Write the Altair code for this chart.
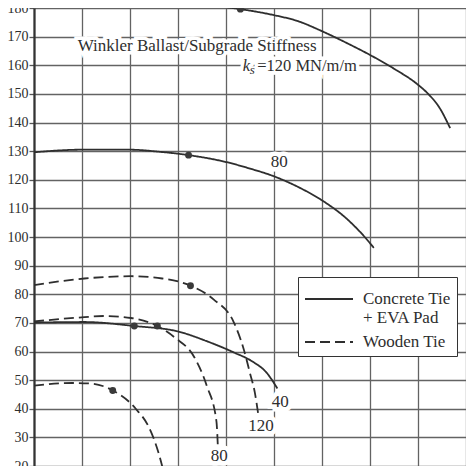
import altair as alt
import pandas as pd

# ---- data (x in grid units, y in chart units) ----
c120_x = [0.0, 1.0, 2.0, 3.0, 3.7, 4.3, 5.0, 5.5, 6.0, 6.5, 7.0, 7.5, 8.0, 8.2, 8.45, 8.67]
c120_y = [181.0, 182.3, 182.5, 181.8, 180.8, 179.6, 177.5, 175.4, 171.9, 167.9, 163.6, 158.8, 153.2, 150.2, 145.1, 138.0]
c80_x = [0.0, 1.0, 2.0, 2.6, 3.22, 4.0, 4.5, 5.0, 5.5, 6.0, 6.5, 6.89, 7.08]
c80_y = [129.6, 130.5, 130.5, 129.8, 128.6, 126.2, 123.9, 121.2, 117.5, 112.8, 106.6, 100.0, 96.2]
c40_x = [0.0, 1.05, 2.09, 3.0, 3.6, 4.16, 4.57, 4.83, 5.07]
c40_y = [70.1, 70.3, 68.9, 67.0, 63.6, 59.7, 56.3, 52.9, 47.1]
w120_x = [0.0, 1.05, 2.02, 2.67, 3.26, 3.74, 4.16, 4.36, 4.5, 4.6, 4.67]
w120_y = [83.2, 85.5, 86.3, 85.5, 83.0, 78.2, 70.3, 61.3, 52.4, 45.7, 38.3]
w80_x = [0.0, 1.05, 1.45, 2.02, 2.57, 2.93, 3.34, 3.6, 3.8, 3.83]
w80_y = [70.5, 72.0, 72.4, 71.7, 68.9, 64.9, 58.0, 48.0, 35.7, 27.0]
w40_x = [0.0, 0.79, 1.19, 1.64, 2.12, 2.4, 2.6, 2.7]
w40_y = [48.1, 49.0, 48.8, 46.4, 40.0, 33.3, 24.3, 18.0]

marker_x = [4.3, 3.22, 2.09, 3.26, 2.57, 1.64]
marker_y = [179.6, 128.6, 68.9, 83.0, 68.9, 46.4]

ks_label_text = ["80", "40", "120", "80"]
ks_label_x = [5.11, 5.13, 4.73, 3.86]
ks_label_y = [126.2, 42.4, 34.0, 23.5]

title_text = "Winkler Ballast/Subgrade Stiffness"
title_x = [0.91]
title_y = [166.6]
ks_text = "=120 MN/m/m"
ks_x = [4.65]
ks_y = [159.9]

tie_names = ["Concrete Tie", "Wooden Tie"]
y_ticks = list(range(20, 190, 10))
x_ticks = list(range(0, 10))

# ---- build tables ----
rows = []
for name, tie, xs_, ys_ in [
    ("c120", tie_names[0], c120_x, c120_y),
    ("c80", tie_names[0], c80_x, c80_y),
    ("c40", tie_names[0], c40_x, c40_y),
    ("w120", tie_names[1], w120_x, w120_y),
    ("w80", tie_names[1], w80_x, w80_y),
    ("w40", tie_names[1], w40_x, w40_y),
]:
    for i, (xv, yv) in enumerate(zip(xs_, ys_)):
        rows.append({"series": name, "tie": tie, "x": xv, "y": yv, "order": i})
curves = pd.DataFrame(rows)
markers = pd.DataFrame({"x": marker_x, "y": marker_y})
labels = pd.DataFrame({"x": ks_label_x, "y": ks_label_y, "text": ks_label_text})
title_df = pd.DataFrame({"x": title_x, "y": title_y, "text": [title_text]})
ks_df = pd.DataFrame({"x": ks_x, "y": ks_y, "text": [ks_text]})

FONT = "Liberation Serif"
INK = "#2e2e2e"

xs = alt.Scale(domain=[0, 9], nice=False, zero=False)
ys = alt.Scale(domain=[20, 180], nice=False, zero=False)

x_axis = alt.Axis(
    values=x_ticks, labels=False, ticks=False, domain=False, title=None,
    grid=True, gridColor="#636363", gridWidth=1.3)
y_axis = alt.Axis(
    values=y_ticks, title=None, grid=True, gridColor="#636363", gridWidth=1.3,
    domainColor="#333333", domainWidth=2.2, tickColor="#555555", tickSize=5,
    tickWidth=1.3, labelFont=FONT, labelFontSize=14, labelColor=INK,
    labelPadding=1, labelFlush=False, labelOverlap=False, labelBound=False)

def X():
    return alt.X("x:Q", scale=xs, axis=x_axis)

def Y():
    return alt.Y("y:Q", scale=ys, axis=y_axis)

lines = alt.Chart(curves).mark_line(
    clip=True, interpolate="monotone", color=INK, strokeWidth=1.8
).encode(
    x=X(), y=Y(),
    detail="series:N",
    order="order:Q",
    strokeDash=alt.StrokeDash("tie:N", scale=alt.Scale(
        domain=tie_names, range=[[1, 0], [10, 5]]),
        legend=alt.Legend(
            title=None, orient="none", legendX=264, legendY=269,
            fillColor="white", strokeColor="#333333", padding=6,
            symbolType="M-1.6,0L1.6,0", symbolSize=900, symbolStrokeWidth=1.8,
            symbolStrokeColor=INK, symbolOffset=9, labelFont=FONT, labelFontSize=17,
            labelColor=INK, labelOffset=18, rowPadding=0,
            labelExpr="datum.label == 'Concrete Tie' ? ['Concrete Tie', '+ EVA Pad'] : datum.label",
        )),
)

points = alt.Chart(markers).mark_circle(
    clip=True, size=48, color="#3a3a3a", opacity=1
).encode(x=X(), y=Y())

def text_layer(df, halo, **kw):
    base = dict(font=FONT, color=INK, baseline="middle")
    base.update(kw)
    if halo:
        base.update(stroke="white", strokeWidth=halo, color="white")
    return alt.Chart(df).mark_text(**base).encode(x=X(), y=Y(), text="text:N")

ks_parts_k = ks_df.assign(text="k")
ks_parts_s = ks_df.assign(text="s")

layers = [
    lines,
    text_layer(labels, 9, fontSize=17, align="center"),
    text_layer(title_df, 7, fontSize=17, align="left"),
    text_layer(ks_df, 7, fontSize=16.5, align="left"),
    text_layer(ks_parts_k, 7, fontSize=16.5, align="right", dx=-7, fontStyle="italic"),
    points,
    text_layer(labels, 0, fontSize=17, align="center"),
    text_layer(title_df, 0, fontSize=17, align="left"),
    text_layer(ks_df, 0, fontSize=16.5, align="left"),
    text_layer(ks_parts_k, 0, fontSize=16.5, align="right", dx=-7, fontStyle="italic"),
    text_layer(ks_parts_s, 0, fontSize=13, align="left", dx=-7.5, dy=4, fontStyle="italic"),
]

chart = alt.layer(*layers).properties(
    width=432, height=458,
    autosize=alt.AutoSizeParams(type="none"),
    padding={"left": 26, "top": 0, "right": 0, "bottom": 0},
    background="white",
).configure_view(strokeWidth=0)

chart.save("out.html", embed_options={"renderer": "svg", "actions": False})
